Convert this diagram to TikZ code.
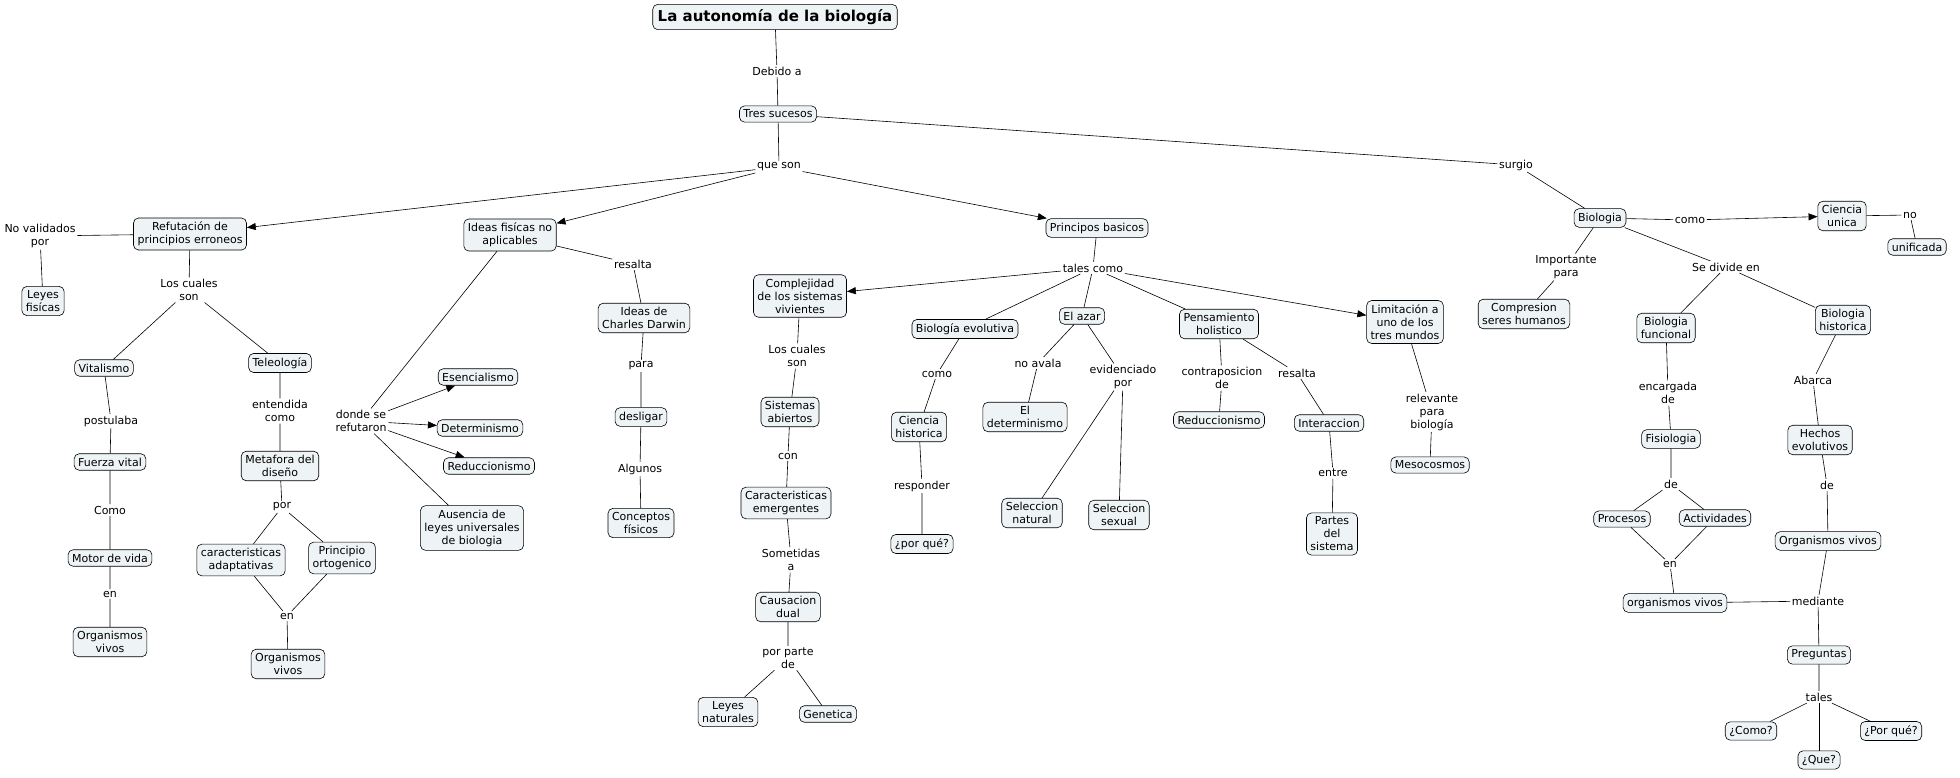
\documentclass[tikz,border=0pt]{standalone}
\usepackage{fontspec}
\setmainfont{DejaVu Sans}
\usetikzlibrary{arrows.meta}
\definecolor{cfill}{HTML}{EEF4F6}
\begin{document}
\begin{tikzpicture}[x=1pt,y=-1pt,
 c/.style={draw,rounded corners=5pt,fill=cfill,align=center,font=\fontsize{11}{13}\selectfont,inner sep=4pt},
 l/.style={align=center,font=\fontsize{11}{13}\selectfont,inner sep=1.5pt,fill=white},
 every path/.style={line width=0.6pt},
 ar/.style={-{Triangle[length=9pt,width=7pt]}}]
\useasboundingbox (0,0) rectangle (1960,778);
\node[c,font=\bfseries\fontsize{15}{18}\selectfont,inner sep=5pt] (T) at (775,17) {La autonomía de la biología};
\node[c] (ts) at (778,114) {Tres sucesos};
\node[l] (l1) at (777,71) {Debido a};
\node[l] (l2) at (779,167) {que son};
\node[l] (l3) at (1516,165) {surgio};
\node[c] (ref) at (190,234) {Refutación de\\principios erroneos};
\node[c] (ifa) at (510,235) {Ideas fisícas no\\aplicables};
\node[c] (pb) at (1097,228) {Principos basicos};
\node[c] (bio) at (1600,218) {Biologia};
\node[l] (l4) at (1690,220) {como};
\node[c] (cu) at (1842,216) {Ciencia\\unica};
\node[l] (l5) at (1910,215) {no};
\node[c] (unif) at (1917,247) {unificada};
\node[l] (l6) at (40,236) {No validados\\por};
\node[c] (lf) at (43,301) {Leyes\\fisícas};
\node[l] (l7) at (189,290) {Los cuales\\son};
\node[c] (vit) at (104,368) {Vitalismo};
\node[c] (tel) at (280,363) {Teleología};
\node[l] (l8) at (111,421) {postulaba};
\node[c] (fv) at (110,462) {Fuerza vital};
\node[l] (l9) at (110,510) {Como};
\node[c] (mv) at (110,558) {Motor de vida};
\node[l] (l10) at (110,594) {en};
\node[c] (ov1) at (110,642) {Organismos\\vivos};
\node[l] (l11) at (280,411) {entendida\\como};
\node[c] (md) at (280,466) {Metafora del\\diseño};
\node[l] (l12) at (282,507) {por};
\node[c] (ca) at (241,560) {caracteristicas\\adaptativas};
\node[c] (po) at (342,558) {Principio\\ortogenico};
\node[l] (l13) at (287,616) {en};
\node[c] (ov2) at (288,664) {Organismos\\vivos};
\node[l] (l14) at (361,421) {donde se\\refutaron};
\node[c] (es) at (478,377) {Esencialismo};
\node[c] (de) at (480,428) {Determinismo};
\node[c] (re1) at (489,466) {Reduccionismo};
\node[c] (au) at (472,528) {Ausencia de\\leyes universales\\de biologia};
\node[l] (l15) at (633,264) {resalta};
\node[c] (icd) at (644,318) {Ideas de\\Charles Darwin};
\node[l] (l16) at (641,366) {para};
\node[c] (des) at (641,417) {desligar};
\node[l] (l17) at (640,469) {Algunos};
\node[c] (cf) at (641,523) {Conceptos\\físicos};
\node[l] (l18) at (1093,268) {tales como};
\node[c] (com) at (800,296) {Complejidad\\de los sistemas\\vivientes};
\node[l] (l19) at (797,356) {Los cuales\\son};
\node[c] (sa) at (790,412) {Sistemas\\abiertos};
\node[l] (l20) at (788,456) {con};
\node[c] (ce) at (786,503) {Caracteristicas\\emergentes};
\node[l] (l21) at (791,560) {Sometidas\\a};
\node[c] (cd) at (788,607) {Causacion\\dual};
\node[l] (l22) at (788,658) {por parte\\de};
\node[c] (ln) at (728,712) {Leyes\\naturales};
\node[c] (gen) at (828,714) {Genetica};
\node[c] (be) at (965,329) {Biología evolutiva};
\node[l] (l23) at (937,374) {como};
\node[c] (ch) at (919,427) {Ciencia\\historica};
\node[l] (l24) at (922,486) {responder};
\node[c] (pq) at (922,544) {¿por qué?};
\node[c] (az) at (1082,316) {El azar};
\node[l] (l25) at (1038,363) {no avala};
\node[c] (edt) at (1025,417) {El\\determinismo};
\node[l] (l26) at (1123,377) {evidenciado\\por};
\node[c] (sn) at (1032,513) {Seleccion\\natural};
\node[c] (ss) at (1119,515) {Seleccion\\sexual};
\node[c] (ph) at (1219,324) {Pensamiento\\holistico};
\node[l] (l27) at (1222,378) {contraposicion\\de};
\node[c] (re2) at (1219,420) {Reduccionismo};
\node[l] (l28) at (1297,373) {resalta};
\node[c] (int) at (1329,423) {Interaccion};
\node[l] (l29) at (1333,473) {entre};
\node[c] (ps) at (1332,534) {Partes\\del\\sistema};
\node[c] (lim) at (1405,322) {Limitación a\\uno de los\\tres mundos};
\node[l] (l30) at (1432,412) {relevante\\para\\biología};
\node[c] (meso) at (1430,465) {Mesocosmos};
\node[l] (l31) at (1566,267) {Importante\\para};
\node[c] (csh) at (1524,314) {Compresion\\seres humanos};
\node[l] (l32) at (1726,267) {Se divide en};
\node[c] (bf) at (1666,328) {Biologia\\funcional};
\node[c] (bh) at (1843,320) {Biologia\\historica};
\node[l] (l33) at (1668,393) {encargada\\de};
\node[c] (fis) at (1671,439) {Fisiologia};
\node[l] (l34) at (1813,380) {Abarca};
\node[c] (he) at (1820,440) {Hechos\\evolutivos};
\node[l] (l35) at (1671,484) {de};
\node[c] (pro) at (1622,519) {Procesos};
\node[c] (act) at (1715,518) {Actividades};
\node[l] (l36) at (1827,485) {de};
\node[l] (l37) at (1670,564) {en};
\node[c] (ov3) at (1675,603) {organismos vivos};
\node[c] (ov4) at (1828,541) {Organismos vivos};
\node[l] (l38) at (1818,601) {mediante};
\node[c] (pre) at (1819,655) {Preguntas};
\node[l] (l39) at (1819,697) {tales};
\node[c] (q1) at (1751,731) {¿Como?};
\node[c] (q2) at (1819,760) {¿Que?};
\node[c] (q3) at (1891,731) {¿Por qué?};
% connectors
\draw (T)--(l1)--(ts);
\draw (ts)--(l2); \draw (ts)--(l3)--(bio);
\draw[ar] (l2)--(ref); \draw[ar] (l2)--(ifa); \draw[ar] (l2)--(pb);
\draw (bio)--(l4); \draw[ar] (l4)--(cu);
\draw (cu)--(l5)--(unif);
\draw (ref)--(l6)--(lf);
\draw (ref)--(l7); \draw (l7)--(vit); \draw (l7)--(tel);
\draw (vit)--(l8)--(fv)--(l9)--(mv)--(l10)--(ov1);
\draw (tel)--(l11)--(md)--(l12); \draw (l12)--(ca); \draw (l12)--(po);
\draw (ca)--(l13); \draw (po)--(l13); \draw (l13)--(ov2);
\draw (ifa)--(l14); \draw[ar] (l14)--(es); \draw[ar] (l14)--(de); \draw[ar] (l14)--(re1); \draw (l14)--(au);
\draw (ifa)--(l15)--(icd)--(l16)--(des)--(l17)--(cf);
\draw (pb)--(l18); \draw[ar] (l18)--(com); \draw (l18)--(be); \draw (l18)--(az); \draw (l18)--(ph); \draw[ar] (l18)--(lim);
\draw (com)--(l19)--(sa)--(l20)--(ce)--(l21)--(cd)--(l22); \draw (l22)--(ln); \draw (l22)--(gen);
\draw (be)--(l23)--(ch)--(l24)--(pq);
\draw (az)--(l25)--(edt); \draw (az)--(l26); \draw (l26)--(sn); \draw (l26)--(ss);
\draw (ph)--(l27)--(re2); \draw (ph)--(l28)--(int)--(l29)--(ps);
\draw (lim)--(l30)--(meso);
\draw (bio)--(l31)--(csh); \draw (bio)--(l32); \draw (l32)--(bf); \draw (l32)--(bh);
\draw (bf)--(l33)--(fis)--(l35); \draw (l35)--(pro); \draw (l35)--(act);
\draw (pro)--(l37); \draw (act)--(l37); \draw (l37)--(ov3);
\draw (bh)--(l34)--(he)--(l36)--(ov4)--(l38); \draw (ov3)--(l38); \draw (l38)--(pre)--(l39);
\draw (l39)--(q1); \draw (l39)--(q2); \draw (l39)--(q3);
\end{tikzpicture}
\end{document}
